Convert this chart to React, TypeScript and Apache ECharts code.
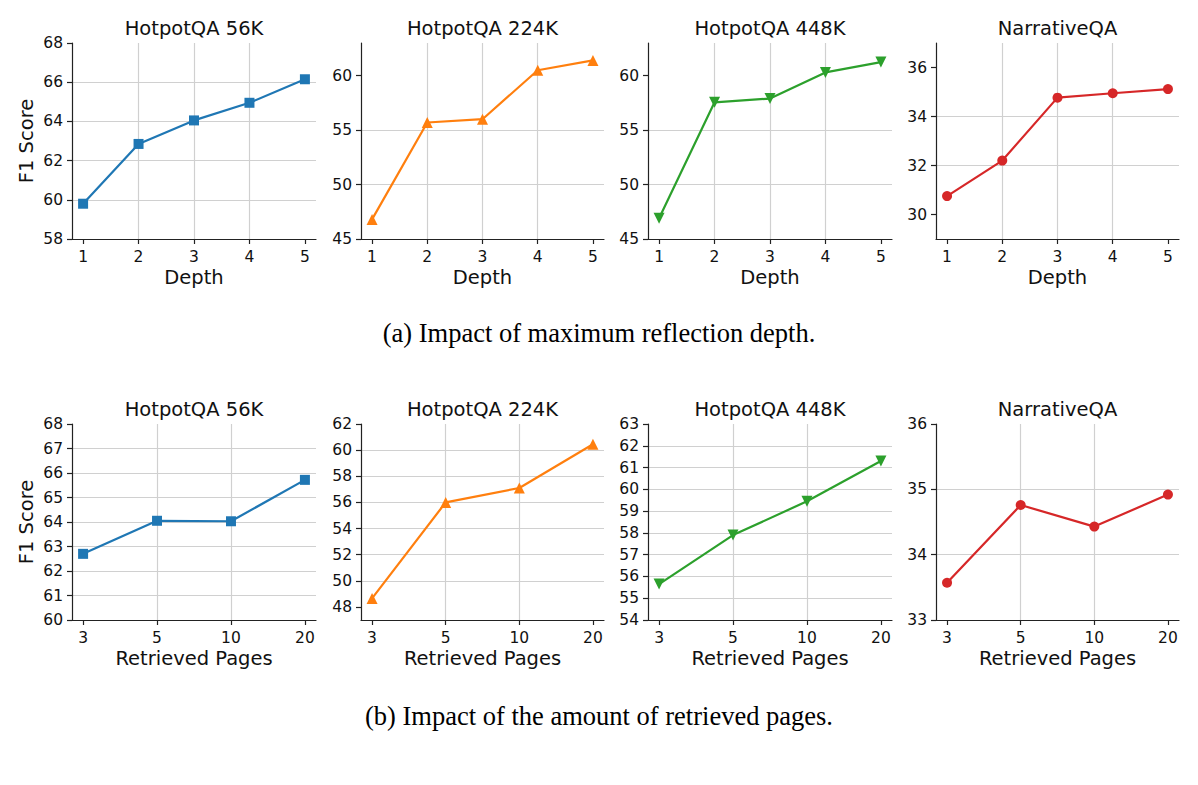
import React, { useEffect, useRef } from "react";
import * as echarts from "echarts";

// ---------- data ----------
const panelTitles = ["HotpotQA 56K", "HotpotQA 224K", "HotpotQA 448K", "NarrativeQA"];
const depths = [1, 2, 3, 4, 5];
const pages = ["3", "5", "10", "20"];

// (a) depth
const depth56K = [59.8, 62.85, 64.05, 64.95, 66.15];
const depth224K = [46.8, 55.7, 56.0, 60.5, 61.4];
const depth448K = [46.9, 57.55, 57.9, 60.3, 61.25];
const depthNarr = [30.75, 32.2, 34.77, 34.95, 35.12];

// (b) retrieved pages
const pages56K = [62.7, 64.05, 64.03, 65.72];
const pages224K = [48.65, 56.0, 57.1, 60.45];
const pages448K = [55.65, 57.9, 59.45, 61.3];
const pagesNarr = [33.57, 34.76, 34.43, 34.92];

// y tick labels and limits
const topYTicks = [
  [58, 60, 62, 64, 66, 68],
  [45, 50, 55, 60],
  [45, 50, 55, 60],
  [30, 32, 34, 36],
];
const topYLim = [
  [58, 68],
  [45, 63],
  [45, 63],
  [29, 37],
];
const botYTicks = [
  [60, 61, 62, 63, 64, 65, 66, 67, 68],
  [48, 50, 52, 54, 56, 58, 60, 62],
  [54, 55, 56, 57, 58, 59, 60, 61, 62, 63],
  [33, 34, 35, 36],
];
const botYLim = [
  [60, 68],
  [47, 62],
  [54, 63],
  [33, 36],
];

const colors = ["#1f77b4", "#ff7f0e", "#2ca02c", "#d62728"];
const symbols = ["rect", "triangle", "triangle", "circle"];
const symbolRot = [0, 0, 180, 0];
const symbolSizes = [10, 11, 11, 10];

const xLabelTop = "Depth";
const xLabelBot = "Retrieved Pages";
const yLabel = "F1 Score";
const captionA = "(a) Impact of maximum reflection depth.";
const captionB = "(b) Impact of the amount of retrieved pages.";

// ---------- layout ----------
const colLeft = [72, 361, 648, 936];
const colWidth = [244, 243, 244, 243];
const rowTop = [43, 424];
const rowHeight = 196;

const TEXT = "#111";
const FONT = "DejaVu Sans";
const GRID = "#d0d0d0";

export default function App() {
  const ref = useRef<HTMLDivElement>(null);

  useEffect(() => {
    if (!ref.current) return;
    const chart = echarts.init(ref.current, undefined, { renderer: "svg" });

    const grids: any[] = [];
    const xAxes: any[] = [];
    const yAxes: any[] = [];
    const series: any[] = [];
    const graphics: any[] = [];

    const topData = [depth56K, depth224K, depth448K, depthNarr];
    const botData = [pages56K, pages224K, pages448K, pagesNarr];

    for (let r = 0; r < 2; r++) {
      for (let c = 0; c < 4; c++) {
        const idx = r * 4 + c;
        grids.push({
          left: colLeft[c],
          top: rowTop[r],
          width: colWidth[c],
          height: rowHeight,
          containLabel: false,
        });

        const isTop = r === 0;
        const xMin = isTop ? 0.8 : -0.15;
        const xMax = isTop ? 5.2 : 3.15;
        const xTicks = isTop ? depths : pages.map((_, i) => i);

        xAxes.push({
          type: "value",
          gridIndex: idx,
          min: xMin,
          max: xMax,
          name: isTop ? xLabelTop : xLabelBot,
          nameLocation: "middle",
          nameGap: 28,
          nameTextStyle: { fontFamily: FONT, fontSize: 19.5, color: TEXT },
          axisLine: { show: true, onZero: false, lineStyle: { color: "#222", width: 1.2 } },
          axisTick: {
            show: true,
            length: 5,
            inside: false,
            customValues: xTicks,
            lineStyle: { color: "#222", width: 1.2 },
          },
          axisLabel: {
            customValues: xTicks,
            margin: 10,
            fontFamily: FONT,
            fontSize: 15.5,
            color: TEXT,
            formatter: (v: number) => (isTop ? String(v) : pages[Math.round(v)]),
          },
          splitLine: {
            show: true,
            showMinLine: false,
            showMaxLine: false,
            lineStyle: { color: GRID, width: 1.2 },
          },
        });

        const yt = isTop ? topYTicks[c] : botYTicks[c];
        const yl = isTop ? topYLim[c] : botYLim[c];
        yAxes.push({
          type: "value",
          gridIndex: idx,
          min: yl[0],
          max: yl[1],
          name: c === 0 ? yLabel : "",
          nameLocation: "middle",
          nameGap: 36,
          nameTextStyle: { fontFamily: FONT, fontSize: 19.5, color: TEXT },
          axisLine: { show: true, onZero: false, lineStyle: { color: "#222", width: 1.2 } },
          axisTick: {
            show: true,
            length: 5,
            inside: false,
            customValues: yt,
            lineStyle: { color: "#222", width: 1.2 },
          },
          axisLabel: {
            customValues: yt,
            margin: 9,
            fontFamily: FONT,
            fontSize: 15.5,
            color: TEXT,
          },
          splitLine: {
            show: true,
            showMinLine: false,
            showMaxLine: false,
            lineStyle: { color: GRID, width: 1.2 },
          },
        });

        const vals = isTop ? topData[c] : botData[c];
        const data = isTop
          ? depths.map((d, i) => [d, vals[i]])
          : pages.map((_, i) => [i, vals[i]]);
        series.push({
          type: "line",
          xAxisIndex: idx,
          yAxisIndex: idx,
          data,
          symbol: symbols[c],
          symbolRotate: symbolRot[c],
          symbolSize: symbolSizes[c],
          showAllSymbol: true,
          lineStyle: { color: colors[c], width: 2.2 },
          itemStyle: { color: colors[c], borderWidth: 0 },
          z: 5,
        });

        graphics.push({
          type: "text",
          x: colLeft[c] + colWidth[c] / 2,
          y: rowTop[r] - 15,
          style: {
            text: panelTitles[c],
            fontFamily: FONT,
            fontSize: 19.5,
            fill: TEXT,
            textAlign: "center",
            textVerticalAlign: "middle",
          },
        });
      }
    }

    graphics.push({
      type: "text",
      x: 599,
      y: 333,
      style: {
        text: captionA,
        fontFamily: "Liberation Serif",
        fontSize: 26.5,
        fill: "#000",
        textAlign: "center",
        textVerticalAlign: "middle",
      },
    });
    graphics.push({
      type: "text",
      x: 599,
      y: 716,
      style: {
        text: captionB,
        fontFamily: "Liberation Serif",
        fontSize: 26.5,
        fill: "#000",
        textAlign: "center",
        textVerticalAlign: "middle",
      },
    });

    chart.setOption({
      animation: false,
      backgroundColor: "#ffffff",
      grid: grids,
      xAxis: xAxes,
      yAxis: yAxes,
      series,
      graphic: graphics,
    });

    return () => chart.dispose();
  }, []);

  return (
    <div
      ref={ref}
      style={{ position: "fixed", left: 0, top: 0, width: 1198, height: 785 }}
    />
  );
}
